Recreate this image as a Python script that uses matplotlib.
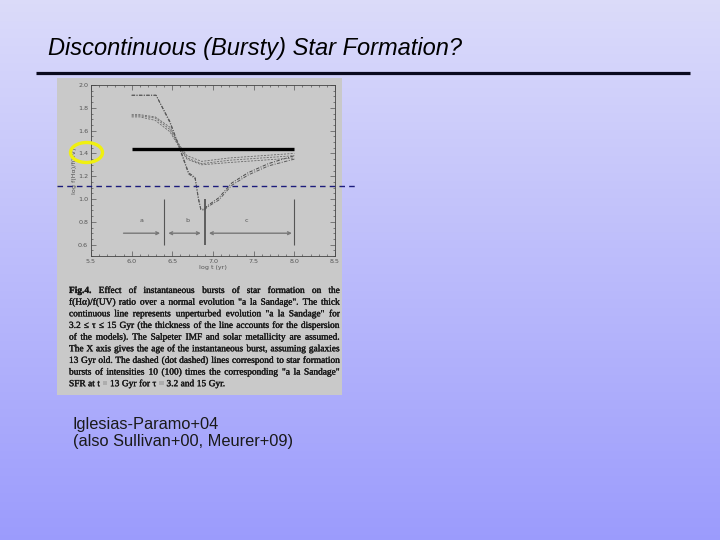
import matplotlib
matplotlib.use('Agg')
import matplotlib.pyplot as plt
import matplotlib.patheffects as pe
import numpy as np
from matplotlib.patches import Ellipse, Rectangle

# ---------------- data ----------------
# dot-dashed: bursts 100x "a la Sandage" SFR (tau = 3.2 and 15 Gyr)
t_dotdash = [6.0, 6.3, 6.47, 6.59, 6.70, 6.78, 6.82, 6.85, 6.89, 6.93, 7.07, 7.23, 7.43, 7.68, 8.0]
r_dotdash_a = [1.91, 1.91, 1.68, 1.45, 1.23, 1.19, 1.01, 0.91, 0.91, 0.94, 1.01, 1.14, 1.23, 1.31, 1.38]
r_dotdash_b = [1.91, 1.91, 1.67, 1.44, 1.22, 1.18, 1.00, 0.91, 0.90, 0.93, 0.99, 1.12, 1.21, 1.29, 1.35]
# dashed: bursts 10x
t_dash = [6.0, 6.1, 6.29, 6.47, 6.59, 6.68, 6.86, 7.2, 7.6, 8.0]
r_dash_a = [1.74, 1.74, 1.72, 1.63, 1.47, 1.38, 1.33, 1.36, 1.38, 1.40]
r_dash_b = [1.73, 1.73, 1.71, 1.61, 1.46, 1.36, 1.31, 1.34, 1.36, 1.38]
r_dash_c = [1.72, 1.72, 1.69, 1.59, 1.45, 1.35, 1.30, 1.32, 1.34, 1.36]
# thick continuous: unperturbed evolution
t_cont = [6.0, 8.0]
r_cont = [1.44, 1.44]
# phase boundaries and labels
bounds = [6.4, 6.9, 8.0]
phase_labels = ['a', 'b', 'c']
phase_label_x = [6.12, 6.68, 7.41]
phase_spans = [(5.9, 6.35, '->'), (6.45, 6.85, '<->'), (6.95, 7.97, '<->')]
xticks = [5.5, 6.0, 6.5, 7.0, 7.5, 8.0, 8.5]
yticks = [0.6, 0.8, 1.0, 1.2, 1.4, 1.6, 1.8, 2.0]
threshold_level = 1.11

title = 'Discontinuous (Bursty) Star Formation?'
ref_lines = ['Iglesias-Paramo+04', '(also Sullivan+00, Meurer+09)']
caption = [
    [('Fig.4.', 'bold'), 'Effect of instantaneous bursts of star formation on the'],
    'f(Hα)/f(UV) ratio over a normal evolution "a la Sandage". The thick',
    'continuous line represents unperturbed evolution "a la Sandage" for',
    '3.2 ≤ τ ≤ 15 Gyr (the thickness of the line accounts for the dispersion',
    'of the models). The Salpeter IMF and solar metallicity are assumed.',
    'The X axis gives the age of the instantaneous burst, assuming galaxies',
    '13 Gyr old. The dashed (dot dashed) lines correspond to star formation',
    'bursts of intensities 10 (100) times the corresponding "a la Sandage"',
    'SFR at t = 13 Gyr for τ = 3.2 and 15 Gyr.',
]

# ---------------- figure ----------------
W, H = 720, 540
fig = plt.figure(figsize=(7.2, 5.4), dpi=100)


def px_axes(l, t, r, b, **kw):
    return fig.add_axes([l / W, 1 - b / H, (r - l) / W, (b - t) / H], **kw)


bg = fig.add_axes([0, 0, 1, 1])
bg.set_axis_off()
top = np.array([0.86, 0.86, 0.98])
bot = np.array([0.61, 0.61, 0.99])
g = np.linspace(0, 1, 256)[:, None, None]
img = top * (1 - g) + bot * g
bg.imshow(np.repeat(img, 2, axis=1), aspect='auto', extent=[0, W, H, 0], zorder=0)
bg.set_xlim(0, W)
bg.set_ylim(H, 0)
bg.set_autoscale_on(False)

# title and rule
bg.text(48, 55, title, fontsize=17, style='italic', family='Liberation Sans',
        va='baseline', ha='left', color='black')
bg.plot([36, 690], [72.5, 72.5], color='#0a0a1e', lw=2.3, solid_capstyle='butt')

# scanned figure panel
bg.add_patch(Rectangle((57, 78), 285, 317, facecolor='#c9c9c9', edgecolor='none', zorder=1))

# caption, justified
renderer = fig.canvas.get_renderer()
left, right = 69, 340
cap_font = dict(family='Liberation Serif', color='#161616')
thicken = [pe.withStroke(linewidth=0.22, foreground='#161616')]


def tokens(line):
    if isinstance(line, str):
        return [(w, 'normal') for w in line.split(' ')]
    out = []
    for part in line:
        if isinstance(part, tuple):
            out += [(w, part[1]) for w in part[0].split(' ')]
        else:
            out += [(w, 'normal') for w in part.split(' ')]
    return out


def width_of(s, fs, weight):
    t = bg.text(0, 0, s, fontsize=fs, weight=weight, **cap_font)
    w = t.get_window_extent(renderer).width
    t.remove()
    return w


fs_test = 7.0
sp = width_of('a b', fs_test, 'normal') - width_of('ab', fs_test, 'normal')
maxw = 0
for line in caption:
    tk = tokens(line)
    tot = sum(width_of(w, fs_test, wt) for w, wt in tk) + sp * (len(tk) - 1)
    maxw = max(maxw, tot)
fs = fs_test * (right - left) / maxw * 0.99

y0, dy = 293.0, 11.65
for i, line in enumerate(caption):
    tk = tokens(line)
    ws = [width_of(w, fs, wt) for w, wt in tk]
    if i == len(caption) - 1:
        gap = sp * fs / fs_test
    else:
        gap = (right - left - sum(ws)) / (len(tk) - 1)
    x = left
    for (w, wt), wd in zip(tk, ws):
        bg.text(x, y0 + i * dy, w, fontsize=fs, weight=wt, va='baseline', ha='left',
                zorder=3, path_effects=thicken, **cap_font)
        x += wd + gap

# reference text
bg.text(73, 429, ref_lines[0], fontsize=11.8, family='Liberation Sans', va='baseline', color='#1a1a1a')
bg.text(73, 446, ref_lines[1], fontsize=11.8, family='Liberation Sans', va='baseline', color='#1a1a1a')

# ---------------- inner plot ----------------
ax = px_axes(91, 85, 335, 256)
ax.patch.set_alpha(0)
ax.set_xlim(5.5, 8.5)
ax.set_ylim(0.5, 2.0)
ax.set_xticks(xticks)
ax.set_xticklabels([f'{v:.1f}' for v in xticks])
ax.set_yticks(yticks)
ax.set_yticklabels([f'{v:.1f}' for v in yticks])
ax.set_xticks(np.arange(5.5, 8.51, 0.1), minor=True)
ax.set_yticks(np.arange(0.5, 2.01, 0.05), minor=True)
ax.tick_params(which='both', direction='in', top=True, right=True, labelsize=4.6,
               colors='#555', width=0.5, pad=2)
ax.tick_params(which='major', length=3.5)
ax.tick_params(which='minor', length=1.6)
for s in ax.spines.values():
    s.set_color('#444')
    s.set_linewidth(0.6)
ax.set_xlabel('log t (yr)', fontsize=4.6, color='#555', labelpad=1)
ax.set_ylabel('log f(Hα)/f(UV)', fontsize=4.6, color='#555', labelpad=1)

dd = (0, (3.5, 1.5, 1, 1.5))
ax.plot(t_dotdash, r_dotdash_a, ls=dd, color='#4a4a4a', lw=0.7)
ax.plot(t_dotdash, r_dotdash_b, ls=dd, color='#5a5a5a', lw=0.7)
for r in (r_dash_a, r_dash_b, r_dash_c):
    ax.plot(t_dash, r, ls=(0, (2.5, 1.5)), color='#6a6a6a', lw=0.6)
ax.plot(t_cont, r_cont, color='black', lw=2.4, solid_capstyle='butt')

for b in bounds:
    ax.vlines(b, 0.6, 1.0, color='#555', lw=1.3 if b == 6.9 else 0.8)
for (x0, x1, st) in phase_spans:
    ax.annotate('', xy=(x1, 0.70), xytext=(x0, 0.70),
                arrowprops=dict(arrowstyle=st, color='#777', lw=1.0, mutation_scale=5,
                                shrinkA=0, shrinkB=0))
for lab, lx in zip(phase_labels, phase_label_x):
    ax.text(lx, 0.81, lab, fontsize=4.6, color='#555', ha='center', va='center')

# dashed blue guide line across the figure
ax.plot([5.08, 8.75], [threshold_level, threshold_level], color='#1c1c7c', lw=1.0,
        dashes=(4, 3), clip_on=False, zorder=5)

# yellow highlight around the 1.4 label
ov = fig.add_axes([0, 0, 1, 1])
ov.set_axis_off()
ov.patch.set_alpha(0)
ov.set_xlim(0, W)
ov.set_ylim(H, 0)
ov.add_patch(Ellipse((86.5, 152.5), 32, 20, facecolor='none', edgecolor='#f0f010', lw=2.4))

fig.savefig('out.png', dpi=100)
